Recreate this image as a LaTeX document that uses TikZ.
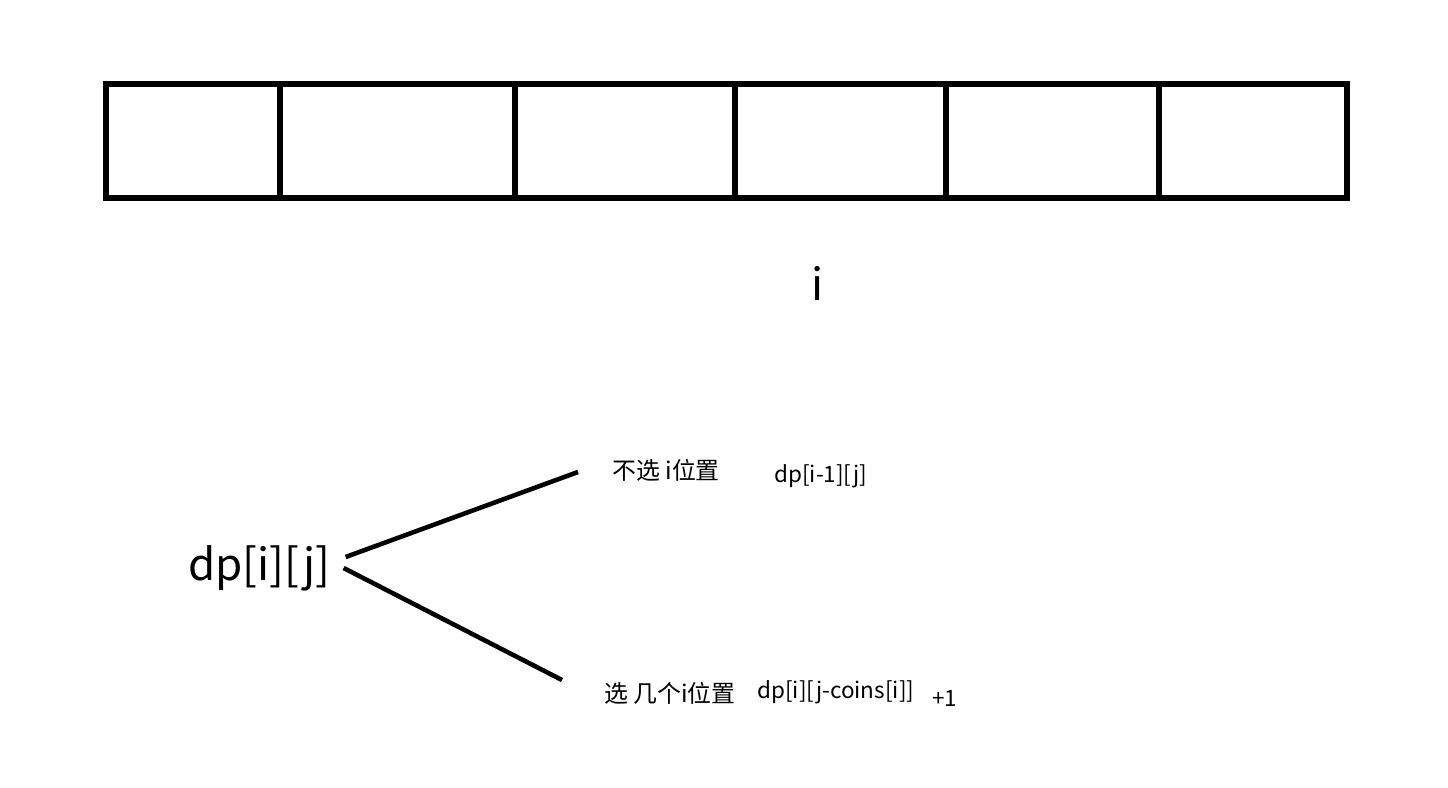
\documentclass[tikz,border=0pt]{standalone}
\usepackage{fontspec}
\setmainfont{Noto Sans CJK SC}
\usetikzlibrary{positioning}
\tikzset{
  cellbox/.style={rectangle,draw=black,line width=3.2pt,minimum height=2.28cm,
    inner sep=0pt,outer sep=0pt},
  bigtext/.style={font=\fontsize{25}{30}\selectfont,inner sep=0pt},
  smalltext/.style={font=\fontsize{13.6}{16}\selectfont,inner sep=0pt,anchor=west},
  valtext/.style={smalltext,font=\fontsize{12.8}{16}\selectfont},
  branch/.style={line width=2.6pt},
}

\begin{document}
\begin{tikzpicture}[x=0.02cm,y=-0.02cm]
  \useasboundingbox (0,0) rectangle (1448,788);

  %% ── Array cells ───────────────────────────────────────────────────────────
  \node[cellbox,minimum width=3.48cm,anchor=north west] (cell1) at (106,84) {};
  \node[cellbox,minimum width=4.70cm,right=0cm of cell1] (cell2) {};
  \node[cellbox,minimum width=4.40cm,right=0cm of cell2] (cell3) {};
  \node[cellbox,minimum width=4.22cm,right=0cm of cell3] (cell4) {};
  \node[cellbox,minimum width=4.26cm,right=0cm of cell4] (cell5) {};
  \node[cellbox,minimum width=3.76cm,right=0cm of cell5] (cell6) {};

  %% ── Index label ───────────────────────────────────────────────────────────
  \node[bigtext] (idx) at (818,283) {i};

  %% ── State and its two choices ─────────────────────────────────────────────
  \node[bigtext,anchor=west] (dpij) at (188,568) {dp[i][j]};
  \node[smalltext] (skip)    at (612,470) {不选 i位置};
  \node[valtext]   (skipval) at (774,476) {dp[i-1][j]};
  \node[smalltext] (take)    at (604,693) {选 几个i位置};
  \node[valtext]   (takeval) at (757,692) {dp[i][j-coins[i]]};
  \node[valtext]   (plusone) at (932,698) {+1};

  %% ── Branches ──────────────────────────────────────────────────────────────
  \draw[branch] ([shift={(15,-11)}]dpij.east) -- ([shift={(-34,2)}]skip.west);
  \draw[branch] ([shift={(13,0)}]dpij.east)   -- ([shift={(-42,-13)}]take.west);

\end{tikzpicture}
\end{document}
